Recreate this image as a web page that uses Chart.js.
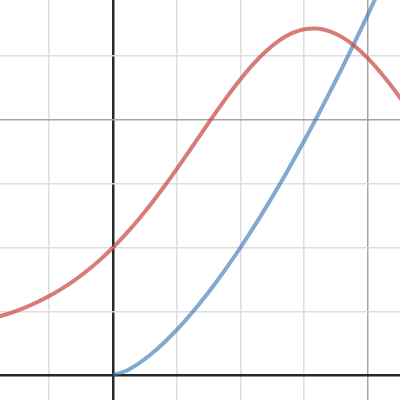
<!DOCTYPE html>
<html>
<head>
<meta charset="utf-8">
<script src="https://cdn.jsdelivr.net/npm/chart.js@4/dist/chart.umd.min.js"></script>
<style>
html,body{margin:0;padding:0;background:#fff;}
#wrap{width:400px;height:400px;}
</style>
</head>
<body>
<div id="wrap"><canvas id="c" width="400" height="400"></canvas></div>
<script>
const redX = [-0.9,-0.8,-0.7,-0.6,-0.5,-0.4,-0.3,-0.2,-0.1,0,0.1,0.2,0.3,0.4,0.5,0.6,0.7,0.8,0.9,1.0,1.1,1.2,1.3,1.4,1.5,1.6,1.7,1.8,1.9,2.0,2.1,2.2,2.3];
const redY = [0.4569,0.4880,0.5251,0.5686,0.6191,0.6775,0.7442,0.8198,0.9050,1.0,1.1050,1.2198,1.3438,1.4761,1.6151,1.7588,1.9045,2.0492,2.1889,2.3198,2.4380,2.5396,2.6210,2.6789,2.7115,2.7172,2.6958,2.6480,2.5762,2.4826,2.3708,2.2446,2.1078];
const blueX = [0,0.1,0.2,0.3,0.4,0.5,0.6,0.7,0.8,0.9,1.0,1.1,1.2,1.3,1.4,1.5,1.6,1.7,1.8,1.9,2.0,2.1,2.2];
const blueY = [0,0.0316,0.0894,0.1643,0.2530,0.3536,0.4648,0.5857,0.7155,0.8538,1.0,1.1537,1.3145,1.4822,1.6565,1.8371,2.0239,2.2165,2.4150,2.6190,2.8284,3.0432,3.2631];
const gridTicks = [-1,-0.5,0,0.5,1,1.5,2,2.5,3];

const redPts = redX.map((x,i)=>({x:x,y:redY[i]}));
const bluePts = blueX.map((x,i)=>({x:x,y:blueY[i]}));

function gridColor(ctx){
  const v = ctx.tick ? ctx.tick.value : null;
  if (v === 0) return 'rgb(40,40,40)';
  if (v !== null && Math.abs(v % 2) < 1e-9) return 'rgb(165,165,165)';
  return 'rgb(222,222,222)';
}
function gridWidth(ctx){
  const v = ctx.tick ? ctx.tick.value : null;
  if (v === 0) return 2.5;
  return 1.5;
}
function scaleOpts(min,max){
  return {
    type:'linear', min:min, max:max,
    afterBuildTicks: (s)=>{ s.ticks = gridTicks.filter(v=>v>=min&&v<=max).map(v=>({value:v})); },
    ticks:{display:false},
    border:{display:false},
    grid:{drawTicks:false, color:gridColor, lineWidth:gridWidth}
  };
}

new Chart(document.getElementById('c'), {
  type:'scatter',
  data:{datasets:[
    {data:redPts, showLine:true, borderColor:'rgba(199,68,64,0.7)', borderWidth:4, pointRadius:0, tension:0.3, fill:false},
    {data:bluePts, showLine:true, borderColor:'rgba(45,112,179,0.6)', borderWidth:4, pointRadius:0, tension:0.3, fill:false}
  ]},
  options:{
    responsive:false, animation:false,
    layout:{padding:0},
    plugins:{legend:{display:false}, tooltip:{enabled:false}},
    scales:{
      x: scaleOpts(-0.886, 2.251),
      y: scaleOpts(-0.196, 2.941)
    }
  }
});
</script>
</body>
</html>
